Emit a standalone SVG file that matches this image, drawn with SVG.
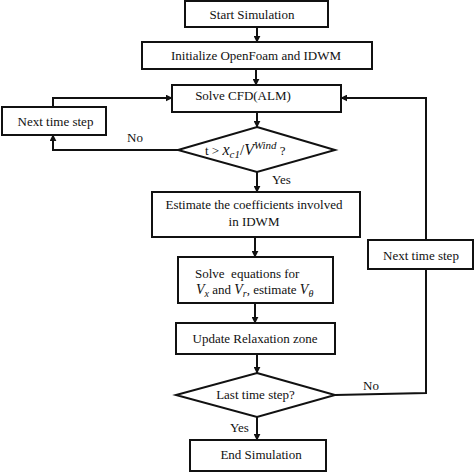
<svg xmlns="http://www.w3.org/2000/svg" width="474" height="472" viewBox="0 0 474 472">
<style>
.n{fill:#fff;stroke:#111;stroke-width:2}
.t{font-family:"Liberation Serif","Times New Roman","DejaVu Serif",serif;font-size:13px;fill:#111}
.m{text-anchor:middle}
.i{font-style:italic}
.c{fill:none;stroke:#111;stroke-width:2}
</style>
<defs>
<marker id="a" viewBox="0 0 10 10" refX="9" refY="5" markerWidth="7" markerHeight="7" markerUnits="userSpaceOnUse" orient="auto">
<path d="M0,0 L10,5 L0,10 z" fill="#111"/>
</marker>
</defs>
<rect width="474" height="472" fill="#fff"/>
<g id="connectors">
<path class="c" d="M257,27 V42" marker-end="url(#a)"/>
<path class="c" d="M256,69 V85" marker-end="url(#a)"/>
<path class="c" d="M257,112 V127" marker-end="url(#a)"/>
<path class="c" d="M178,150 H53 V135" marker-end="url(#a)"/>
<path class="c" d="M53,107 V98 H172" marker-end="url(#a)"/>
<path class="c" d="M257,172 V192" marker-end="url(#a)"/>
<path class="c" d="M255,237 V257" marker-end="url(#a)"/>
<path class="c" d="M255,303 V323" marker-end="url(#a)"/>
<path class="c" d="M257,354 V373" marker-end="url(#a)"/>
<path class="c" d="M257,417 V440" marker-end="url(#a)"/>
<path class="c" d="M335,395 L426,393 V269"/>
<path class="c" d="M426,240 V98 H341" marker-end="url(#a)"/>
<text class="t m" x="135" y="142">No</text>
<text class="t" x="272" y="184">Yes</text>
<text class="t" x="363" y="390">No</text>
<text class="t" x="230" y="432">Yes</text>
</g>
<g id="start">
<rect class="n" x="185" y="1" width="143" height="26"/>
<text class="t m" x="252" y="19">Start Simulation</text>
</g>
<g id="init">
<rect class="n" x="142" y="42" width="230" height="27"/>
<text class="t m" x="256" y="60">Initialize OpenFoam and IDWM</text>
</g>
<g id="cfd">
<rect class="n" x="172" y="85" width="169" height="27"/>
<text class="t m" x="243" y="100">Solve CFD(ALM)</text>
</g>
<g id="next-left">
<rect class="n" x="2" y="107" width="104" height="28"/>
<text class="t m" x="55.5" y="126">Next time step</text>
</g>
<g id="decision1">
<polygon class="n" points="257,127 335,150 257,172 178,150"/>
<text class="t" x="205" y="155" font-size="14">t &gt; <tspan class="i" font-size="16">x</tspan><tspan class="i" font-size="11" dy="3">c1</tspan><tspan dy="-3" font-size="15">/</tspan><tspan class="i" font-size="16">V</tspan><tspan class="i" font-size="11" dy="-6">Wind</tspan><tspan dy="6"> ?</tspan></text>
</g>
<g id="estimate">
<rect class="n" x="152" y="192" width="208" height="45"/>
<text class="t m" x="254" y="209">Estimate the coefficients involved</text>
<text class="t m" x="254" y="226">in IDWM</text>
</g>
<g id="solve-eq">
<rect class="n" x="178" y="257" width="155" height="46"/>
<text class="t" x="195" y="278" xml:space="preserve">Solve  equations for</text>
<text class="t" x="196" y="294"><tspan class="i" font-size="14">V</tspan><tspan class="i" font-size="10" dy="3">x</tspan><tspan dy="-3"> and </tspan><tspan class="i" font-size="14">V</tspan><tspan class="i" font-size="10" dy="3">r</tspan><tspan dy="-3">, estimate </tspan><tspan class="i" font-size="14">V</tspan><tspan class="i" font-size="10" dy="3">θ</tspan></text>
</g>
<g id="next-right">
<rect class="n" x="368" y="240" width="105" height="29"/>
<text class="t m" x="421" y="260">Next time step</text>
</g>
<g id="update">
<rect class="n" x="176" y="323" width="159" height="31"/>
<text class="t m" x="255" y="343">Update Relaxation zone</text>
</g>
<g id="decision2">
<polygon class="n" points="257,373 335,395 257,417 176,395"/>
<text class="t m" x="255.5" y="399">Last time step?</text>
</g>
<g id="end">
<rect class="n" x="190" y="440" width="136" height="31"/>
<text class="t m" x="261" y="459">End Simulation</text>
</g>
</svg>
